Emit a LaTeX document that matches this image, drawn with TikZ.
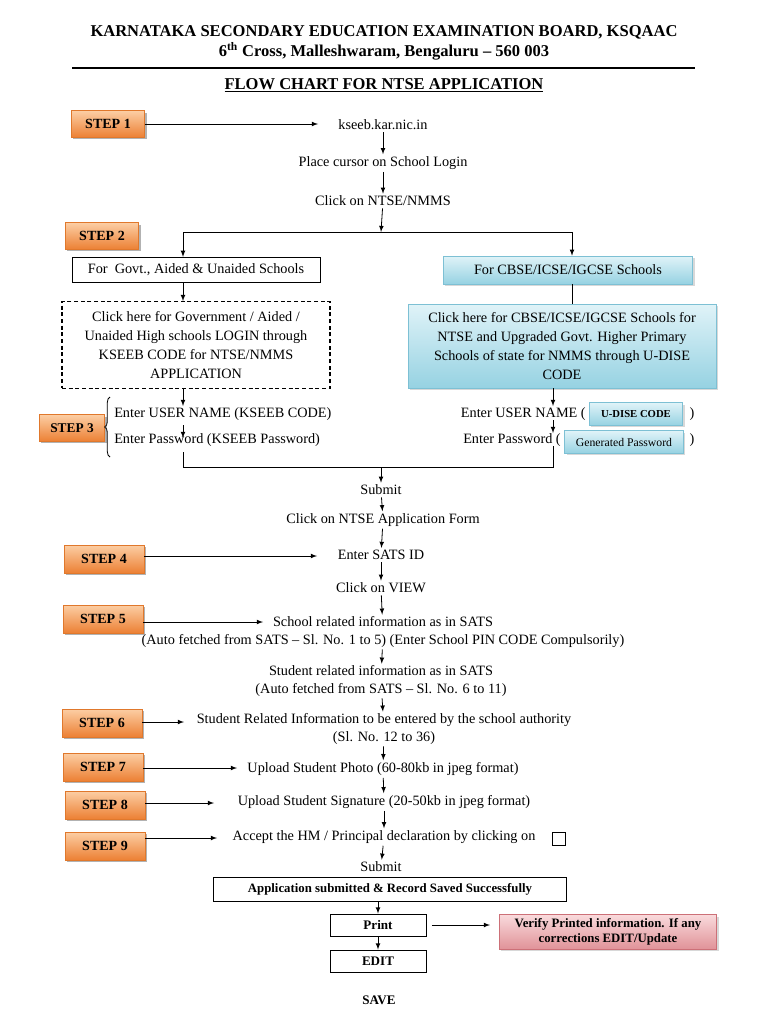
\documentclass[tikz,border=0pt]{standalone}
\usepackage{fontspec}
\setmainfont{Liberation Serif}
\usetikzlibrary{shadows}
\usetikzlibrary{decorations.pathreplacing}
\usetikzlibrary{positioning}

\definecolor{steptop}{RGB}{252,206,164}
\definecolor{stepbot}{RGB}{236,128,52}
\definecolor{stepline}{RGB}{224,120,44}
\definecolor{bluetop}{RGB}{224,243,248}
\definecolor{bluebot}{RGB}{150,210,226}
\definecolor{blueline}{RGB}{125,192,212}
\definecolor{pinktop}{RGB}{249,218,220}
\definecolor{pinkbot}{RGB}{224,146,152}
\definecolor{pinkline}{RGB}{204,112,120}

\tikzset{
	txt/.style={inner sep=1.5pt, align=center, font=\fontsize{10.7}{12.8}\selectfont},
	boxtxt/.style={inner sep=1.5pt, align=center, font=\fontsize{10.7}{14.3}\selectfont},
	head/.style={inner sep=1pt, font=\fontsize{12.4}{14}\selectfont\bfseries},
	stepbox/.style={draw=stepline, top color=steptop, bottom color=stepbot,
		minimum width=60pt, minimum height=21pt, inner sep=1pt,
		font=\fontsize{10.5}{12}\selectfont\bfseries,
		drop shadow={shadow xshift=1.5pt, shadow yshift=-1.5pt, fill=black!60}},
	bluebox/.style={draw=blueline, top color=bluetop, bottom color=bluebot,
		drop shadow={shadow xshift=1.5pt, shadow yshift=-1.5pt, fill=black!30}},
	plainbox/.style={draw, line width=0.7pt},
	arr/.style={-latex, line width=0.6pt},
	link/.style={line width=0.6pt}
}

\begin{document}
\begin{tikzpicture}[x=0.75pt,y=-0.75pt]
	\useasboundingbox (0,0) rectangle (768,1024);
	% define coordinates
	\coordinate (s1tip) at (318,124);
	\coordinate (s4tip) at (317,556);
	\coordinate (s5tip) at (263,622);
	\coordinate (s6tip) at (184,722);
	\coordinate (s7tip) at (237,768);
	\coordinate (s8tip) at (214,803);
	\coordinate (s9tip) at (217,838);
	\coordinate (fork) at (381,232);
	\coordinate (forkL) at (183,232);
	\coordinate (forkR) at (572,232);
	\coordinate (kA) at (183,406);
	\coordinate (kB) at (183,425);
	\coordinate (kC) at (183,438);
	\coordinate (kD) at (183,452);
	\coordinate (uA) at (553,406);
	\coordinate (uB) at (553,420);
	\coordinate (uC) at (553,433);
	\coordinate (uD) at (553,446);
	\coordinate (joinL) at (183,467);
	\coordinate (joinR) at (553,467);
	\coordinate (join) at (381,467);
	\coordinate (vtip) at (490,925);
	% header
	\node[head] (board) at (384,32) {KARNATAKA SECONDARY EDUCATION EXAMINATION BOARD, KSQAAC};
	\node[head] (addr) at (384,51) {6\textsuperscript{th} Cross, Malleshwaram, Bengaluru – 560 003};
	\draw[line width=1.4pt] (72,68) -- (695,68);
	\node[head] (title) at (384,85) {\underline{FLOW CHART FOR NTSE APPLICATION}};
	% steps
	\node[stepbox, minimum width=55pt, minimum height=20pt] (step1) at (108,124) {STEP 1};
	\node[stepbox, minimum width=55pt, minimum height=20pt] (step2) at (102,236) {STEP 2};
	\node[stepbox, minimum width=49pt, minimum height=20pt, font=\fontsize{10}{12}\selectfont\bfseries] (step3) at (72,428) {STEP 3};
	\node[stepbox] (step4) at (104,559) {STEP 4};
	\node[stepbox] (step5) at (103,619) {STEP 5};
	\node[stepbox] (step6) at (102,723) {STEP 6};
	\node[stepbox] (step7) at (103,767) {STEP 7};
	\node[stepbox] (step8) at (105,805) {STEP 8};
	\node[stepbox] (step9) at (105,846) {STEP 9};
	% login
	\node[txt] (site) at (383,125) {kseeb.kar.nic.in};
	\node[txt] (cursor) at (383,163) {Place cursor on School Login};
	\node[txt] (menu) at (383,201) {Click on NTSE/NMMS};
	\node[plainbox, minimum width=186pt, minimum height=19pt, boxtxt] (govt) at (196,270) {For\ \ Govt., Aided \& Unaided Schools};
	\node[bluebox, minimum width=187pt, minimum height=21pt, boxtxt] (cbse) at (568,270) {For CBSE/ICSE/IGCSE Schools};
	\node[draw, line width=0.9pt, dash pattern=on 3pt off 2pt, minimum width=201pt, minimum height=65pt, boxtxt] (kseebbox) at (196,345)
		{Click here for Government / Aided /\\Unaided High schools LOGIN through\\KSEEB CODE for NTSE/NMMS\\APPLICATION};
	\node[bluebox, minimum width=231pt, minimum height=63pt, boxtxt] (udisebox) at (562,346)
		{Click here for CBSE/ICSE/IGCSE Schools for\\NTSE and Upgraded Govt. Higher Primary\\Schools of state for NMMS through U-DISE\\CODE};
	% user name and password
	\node[txt, anchor=west] (kuser) at (112,414) {Enter USER NAME (KSEEB CODE)};
	\node[txt, anchor=west] (kpass) at (112,440) {Enter Password (KSEEB Password)};
	\node[txt, anchor=east] (uuser) at (588,414) {Enter USER NAME (};
	\node[txt, anchor=east] (upass) at (563,440) {Enter Password (};
	\node[bluebox, minimum width=70pt, minimum height=17pt, inner sep=1pt, font=\fontsize{8}{9}\selectfont\bfseries] (udisecode) at (636,414) {U-DISE CODE};
	\node[bluebox, minimum width=89pt, minimum height=17pt, inner sep=1pt, font=\fontsize{8.8}{10}\selectfont] (genpass) at (624,442) {Generated Password};
	\node[txt] (uuserend) at (692,414) {)};
	\node[txt] (upassend) at (692,440) {)};
	\draw[decorate, decoration={brace, amplitude=4pt}, line width=0.6pt] (110,457) -- (110,397);
	% application
	\node[txt] (submit) at (381,490) {Submit};
	\node[txt] (form) at (383,520) {Click on NTSE Application Form};
	\node[txt] (sats) at (381,555) {Enter SATS ID};
	\node[txt] (view) at (381,588) {Click on VIEW};
	\node[txt] (school) at (383,632) {School related information as in SATS\\(Auto fetched from SATS – Sl. No. 1 to 5) (Enter School PIN CODE Compulsorily)};
	\node[txt] (student) at (381,681) {Student related information as in SATS\\(Auto fetched from SATS – Sl. No. 6 to 11)};
	\node[txt] (entered) at (384,729) {Student Related Information to be entered by the school authority\\(Sl. No. 12 to 36)};
	\node[txt] (photo) at (383,769) {Upload Student Photo (60-80kb in jpeg format)};
	\node[txt] (sign) at (384,802) {Upload Student Signature (20-50kb in jpeg format)};
	\node[txt] (accept) at (384,837) {Accept the HM / Principal declaration by clicking on};
	\node[draw, line width=0.7pt, minimum size=10pt, inner sep=0pt] (tick) at (559,839) {};
	\node[txt] (submit2) at (381,867) {Submit};
	\node[plainbox, minimum width=265pt, minimum height=18pt, inner sep=1pt, font=\fontsize{9.6}{11}\selectfont\bfseries] (saved) at (390,889) {Application submitted \& Record Saved Successfully};
	\node[plainbox, minimum width=72pt, minimum height=16.5pt, inner sep=1pt, font=\fontsize{9.8}{11}\selectfont\bfseries] (print) at (378,925) {Print};
	\node[plainbox, minimum width=72pt, minimum height=16.5pt, inner sep=1pt, font=\fontsize{9.8}{11}\selectfont\bfseries] (edit) at (378,961) {EDIT};
	\node[inner sep=1pt, font=\fontsize{9.8}{11}\selectfont\bfseries] (save) at (379,1000) {SAVE};
	\node[draw=pinkline, top color=pinktop, bottom color=pinkbot, drop shadow={shadow xshift=1.5pt, shadow yshift=-1.5pt, fill=black!30},
		minimum width=163pt, minimum height=26pt, inner sep=1pt, align=center, font=\fontsize{9.6}{11}\selectfont\bfseries] (verify) at (608,932)
		{Verify Printed information. If any\\corrections EDIT/Update};
	% step arrows
	\draw[arr] (step1.east |- s1tip) -- (s1tip);
	\draw[arr] (step4.east |- s4tip) -- (s4tip);
	\draw[arr] (step5.east |- s5tip) -- (s5tip);
	\draw[arr] (step6.east |- s6tip) -- (s6tip);
	\draw[arr] (step7.east |- s7tip) -- (s7tip);
	\draw[arr] (step8.east |- s8tip) -- (s8tip);
	\draw[arr] (step9.east |- s9tip) -- (s9tip);
	% flow arrows
	\draw[arr] (site) -- (cursor);
	\draw[arr] (cursor) -- (menu);
	\draw[arr] (menu) -- (fork);
	\draw[link] (forkL) -- (forkR);
	\draw[arr] (forkL) -- (forkL |- govt.north);
	\draw[arr] (forkR) -- (forkR |- cbse.north);
	\draw[arr] (govt.south -| forkL) -- (kseebbox.north -| forkL);
	\draw[link] (cbse.south -| forkR) -- (udisebox.north -| forkR);
	\draw[arr] (kseebbox.south -| kA) -- (kA);
	\draw[arr] (kB) -- (kC);
	\draw[arr] (udisebox.south -| uA) -- (uA);
	\draw[arr] (uB) -- (uC);
	\draw[link] (kD) -- (joinL) -- (joinR) -- (uD);
	\draw[arr] (join) -- (submit);
	\draw[arr] (submit) -- (form);
	\draw[arr] (form) -- (sats);
	\draw[arr] (sats) -- (view);
	\draw[arr] (view) -- (school);
	\draw[arr] (school) -- (student);
	\draw[arr] (student) -- (entered);
	\draw[arr] (entered) -- (photo);
	\draw[arr] (photo) -- (sign);
	\draw[arr] (sign) -- (accept);
	\draw[arr] (accept) -- (submit2);
	\draw[arr] (saved.south -| print) -- (print);
	\draw[arr] (print) -- (edit);
	\draw[arr, shorten <=4pt] (print) -- (vtip);
\end{tikzpicture}
\end{document}
